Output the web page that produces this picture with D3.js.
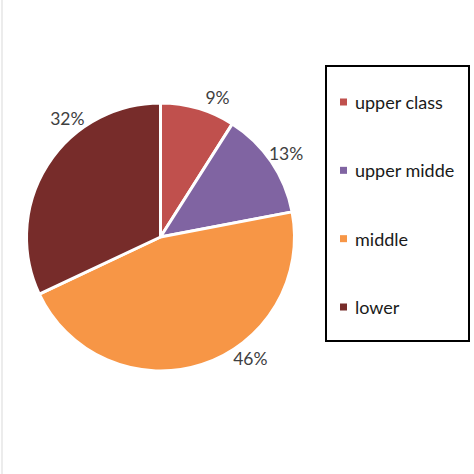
<!DOCTYPE html>
<html>
<head>
<meta charset="utf-8">
<script src="https://cdn.jsdelivr.net/npm/d3@7"></script>
<style>
  body { margin: 0; background: #fff; }
</style>
</head>
<body>
<script>
const categories = ["upper class", "upper midde", "middle", "lower"];
const shares = [9, 13, 46, 32];
const colors = ["#C0504D", "#8064A2", "#F79646", "#772C2A"];

function main(){
    const canvasWidth = 474;
    const canvasHeight = 474;
    const cx = 160.5, cy = 237, radius = 134;

    const svg = d3.select("body").append("svg")
        .attr("width", canvasWidth)
        .attr("height", canvasHeight);

    // faint frame line on the left
    svg.append("line")
        .attr("x1", 2).attr("x2", 2)
        .attr("y1", 0).attr("y2", canvasHeight)
        .attr("stroke", "#ececec")
        .attr("stroke-width", 2);

    const data = categories.map((c, i) => ({cat: c, value: shares[i], color: colors[i]}));

    const pie = d3.pie().sort(null).value(d => d.value);
    const arc = d3.arc().innerRadius(0).outerRadius(radius);
    const arcs = pie(data);

    const g = svg.append("g")
        .attr("transform", "translate(" + cx + "," + cy + ")");

    g.selectAll("path")
        .data(arcs)
        .enter()
        .append("path")
        .attr("d", arc)
        .attr("fill", d => d.data.color)
        .attr("stroke", "#fff")
        .attr("stroke-width", 3)
        .attr("stroke-linejoin", "round");

    // excel nudged the outside-end labels a bit, degrees off the mid angle
    const labelNudge = [6, 0.5, -18.5, 19.5];
    const labelR = 151;
    g.selectAll("text.pct")
        .data(arcs)
        .enter()
        .append("text")
        .attr("class", "pct")
        .attr("x", (d, i) => {
            const a = (d.startAngle + d.endAngle) / 2 + labelNudge[i] * Math.PI / 180;
            return Math.sin(a) * labelR;
        })
        .attr("y", (d, i) => {
            const a = (d.startAngle + d.endAngle) / 2 + labelNudge[i] * Math.PI / 180;
            return -Math.cos(a) * labelR;
        })
        .attr("text-anchor", "middle")
        .attr("dominant-baseline", "central")
        .attr("font-family", "Lato, sans-serif")
        .attr("font-size", "17.5px")
        .attr("fill", "#404040")
        .text(d => d.data.value + "%");

    // legend
    const legend = svg.append("g");
    legend.append("rect")
        .attr("x", 326)
        .attr("y", 66)
        .attr("width", 143)
        .attr("height", 275)
        .attr("fill", "none")
        .attr("stroke", "#000")
        .attr("stroke-width", 2);

    const legendY = d3.scalePoint()
        .domain(categories)
        .range([102, 307]);

    const items = legend.selectAll("g.item")
        .data(data)
        .enter()
        .append("g")
        .attr("class", "item")
        .attr("transform", d => "translate(0," + legendY(d.cat) + ")");

    items.append("rect")
        .attr("x", 340)
        .attr("y", -3.5)
        .attr("width", 7)
        .attr("height", 7)
        .attr("fill", d => d.color);

    items.append("text")
        .attr("x", 355)
        .attr("y", 0)
        .attr("dominant-baseline", "central")
        .attr("font-family", "Lato, sans-serif")
        .attr("font-size", "18px")
        .attr("fill", "#1a1a1a")
        .text(d => d.cat);
}
main();
</script>
</body>
</html>
